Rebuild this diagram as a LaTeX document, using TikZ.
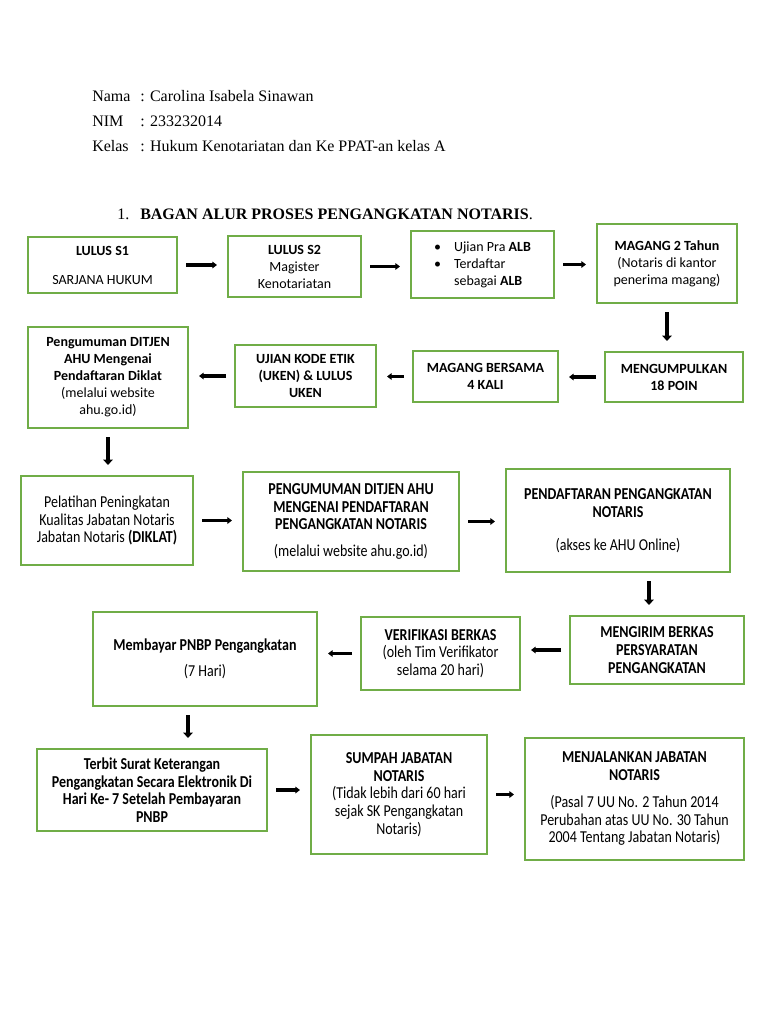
\documentclass[tikz,border=0pt]{standalone}
\usepackage{fontspec}
\setmainfont{Carlito}
\newfontfamily\headfont{Liberation Serif}
\newfontfamily\narrowfont{Carlito}[FakeStretch=0.84]
\usetikzlibrary{arrows.meta}
\definecolor{boxgreen}{RGB}{112,173,71}
\tikzset{
  stagebox/.style={draw=boxgreen, line width=1.5pt, align=center, inner sep=2pt,
    font=\fontsize{10.5}{12.75}\selectfont},
  lowbox/.style={stagebox, font=\narrowfont\fontsize{12.5}{13.25}\selectfont},
  flowarrow/.style={-{Triangle[length=3.5pt,width=5pt]}, line width=2.6pt,
    shorten <=6pt, shorten >=7.5pt},
  downarrow/.style={flowarrow, -{Triangle[length=4pt,width=7pt]}, line width=3.6pt},
  headtext/.style={anchor=base west, inner sep=0pt, font=\headfont\fontsize{12}{14}\selectfont}
}
\begin{document}
\begin{tikzpicture}[x=0.75pt, y=-0.75pt]
  \fill[white] (0,0) rectangle (768,1024);
  \useasboundingbox (0,0) rectangle (768,1024);
  % Header
  \node[headtext] (namalabel) at (92,101) {Nama};
  \node[headtext] (namavalue) at (140,101) {: Carolina Isabela Sinawan};
  \node[headtext] (nimlabel) at (92,126.5) {NIM};
  \node[headtext] (nimvalue) at (140,126.5) {: 233232014};
  \node[headtext] (kelaslabel) at (92,151.5) {Kelas};
  \node[headtext] (kelasvalue) at (140,151.5) {: Hukum Kenotariatan dan Ke PPAT-an kelas A};
  \node[headtext] (itemno) at (117,219) {1.};
  \node[headtext] (judul) at (140,219) {\textbf{BAGAN ALUR PROSES PENGANGKATAN NOTARIS}.};
  % Row 1
  \node[stagebox, minimum width=111.75pt, minimum height=42pt] (s1) at (102.5,265)
    {\textbf{LULUS S1}\\[9pt] SARJANA HUKUM};
  \node[stagebox, minimum width=99.75pt, minimum height=45.75pt] (s2) at (294.5,266.5)
    {\textbf{LULUS S2}\\ Magister\\ Kenotariatan};
  \node[stagebox, minimum width=107.25pt, minimum height=50.25pt, align=left] (alb) at (482.5,264.5)
    {\makebox[15pt][l]{\textbullet}Ujian Pra \textbf{ALB}\\
     \makebox[15pt][l]{\textbullet}Terdaftar\\
     \hspace*{15pt}sebagai \textbf{ALB}};
  \node[stagebox, minimum width=105pt, minimum height=59.25pt] (mag2) at (667,263.5)
    {\textbf{MAGANG 2 Tahun}\\ (Notaris di kantor\\ penerima magang)};
  % Row 2
  \node[stagebox, minimum width=103.5pt, minimum height=37.5pt] (poin) at (674,377)
    {\textbf{MENGUMPULKAN}\\ \textbf{18 POIN}};
  \node[stagebox, minimum width=108.75pt, minimum height=38.25pt] (magb) at (485.5,376.5)
    {\textbf{MAGANG BERSAMA}\\ \textbf{4 KALI}};
  \node[stagebox, minimum width=105.75pt, minimum height=46.5pt] (uken) at (305.5,376)
    {\textbf{UJIAN KODE ETIK}\\ \textbf{(UKEN) \& LULUS}\\ \textbf{UKEN}};
  \node[stagebox, minimum width=120pt, minimum height=75.75pt] (diklatinfo) at (108,377.5)
    {\textbf{Pengumuman DITJEN}\\ \textbf{AHU Mengenai}\\ \textbf{Pendaftaran Diklat}\\ (melalui website\\ ahu.go.id)};
  % Row 3
  \node[lowbox, minimum width=129pt, minimum height=66.75pt] (diklat) at (107,520.5)
    {Pelatihan Peningkatan\\ Kualitas Jabatan Notaris\\ Jabatan Notaris \textbf{(DIKLAT)}};
  \node[lowbox, minimum width=162pt, minimum height=74.25pt] (ahuinfo) at (351,521.5)
    {\textbf{PENGUMUMAN DITJEN AHU}\\ \textbf{MENGENAI PENDAFTARAN}\\ \textbf{PENGANGKATAN NOTARIS}\\[7pt] (melalui website ahu.go.id)};
  \node[lowbox, minimum width=168pt, minimum height=77.25pt] (daftar) at (618,520.5)
    {\textbf{PENDAFTARAN PENGANGKATAN}\\ \textbf{NOTARIS}\\[11.5pt] (akses ke AHU Online)};
  % Row 4
  \node[lowbox, minimum width=130.5pt, minimum height=51pt] (kirim) at (657,650)
    {\textbf{MENGIRIM BERKAS}\\ \textbf{PERSYARATAN}\\ \textbf{PENGANGKATAN}};
  \node[lowbox, minimum width=119.25pt, minimum height=54.75pt] (verif) at (440.5,653.5)
    {\textbf{VERIFIKASI BERKAS}\\ (oleh Tim Verifikator\\ selama 20 hari)};
  \node[lowbox, minimum width=168pt, minimum height=70.5pt] (pnbp) at (205,659)
    {\textbf{Membayar PNBP Pengangkatan}\\[6.25pt] (7 Hari)};
  % Row 5
  \node[lowbox, minimum width=172.5pt, minimum height=61.5pt] (sk) at (152,790)
    {\textbf{Terbit Surat Keterangan}\\ \textbf{Pengangkatan Secara Elektronik Di}\\ \textbf{Hari Ke- 7 Setelah Pembayaran}\\ \textbf{PNBP}};
  \node[lowbox, minimum width=132pt, minimum height=89.25pt] (sumpah) at (399,794.5)
    {\textbf{SUMPAH JABATAN}\\ \textbf{NOTARIS}\\ (Tidak lebih dari 60 hari\\ sejak SK Pengangkatan\\ Notaris)};
  \node[lowbox, minimum width=164.25pt, minimum height=91.5pt] (jabatan) at (634.5,799)
    {\textbf{MENJALANKAN JABATAN}\\ \textbf{NOTARIS}\\[7pt] (Pasal 7 UU No. 2 Tahun 2014\\ Perubahan atas UU No. 30 Tahun\\ 2004 Tentang Jabatan Notaris)};
  % Arrows
  \draw[flowarrow] (s1.east) -- (s1.east -| s2.west);
  \draw[flowarrow] (s2.east) -- (s2.east -| alb.west);
  \draw[flowarrow] (alb.east) -- (alb.east -| mag2.west);
  \draw[downarrow] (mag2.south) -- (mag2.south |- poin.north);
  \draw[flowarrow] (poin.west) -- (poin.west -| magb.east);
  \draw[flowarrow] (magb.west) -- (magb.west -| uken.east);
  \draw[flowarrow] (uken.west) -- (uken.west -| diklatinfo.east);
  \draw[downarrow] (diklatinfo.south) -- (diklatinfo.south |- diklat.north);
  \draw[flowarrow] (diklat.east) -- (diklat.east -| ahuinfo.west);
  \draw[flowarrow] (ahuinfo.east) -- (ahuinfo.east -| daftar.west);
  \draw[downarrow] ([xshift=23.25pt]daftar.south) -- ([xshift=23.25pt]daftar.south |- kirim.north);
  \draw[flowarrow] (kirim.west) -- (kirim.west -| verif.east);
  \draw[flowarrow] (verif.west) -- (verif.west -| pnbp.east);
  \draw[downarrow] ([xshift=-12.75pt]pnbp.south) -- ([xshift=-12.75pt]pnbp.south |- sk.north);
  \draw[flowarrow] (sk.east) -- (sk.east -| sumpah.west);
  \draw[flowarrow] (sumpah.east) -- (sumpah.east -| jabatan.west);
\end{tikzpicture}
\end{document}
